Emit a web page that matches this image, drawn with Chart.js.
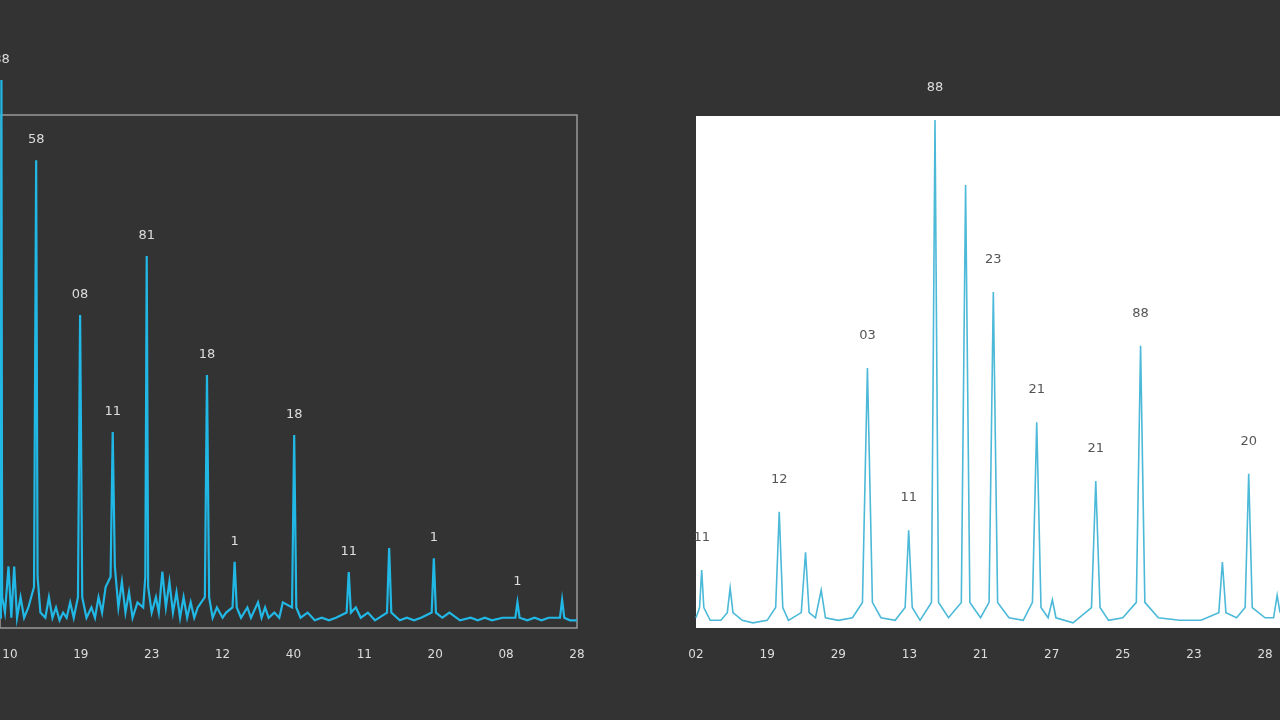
<!DOCTYPE html>
<html>
<head>
<meta charset="utf-8">
<script src="https://cdn.jsdelivr.net/npm/chart.js@4"></script>
<style>
  html, body { margin: 0; padding: 0; background: #333333; width: 1280px; height: 720px; overflow: hidden; }
  #leftWrap { position: absolute; left: 0; top: 0; width: 600px; height: 720px; }
  #rightWrap { position: absolute; left: 640px; top: 0; width: 640px; height: 720px; }
</style>
</head>
<body>
<div id="leftWrap"><canvas id="leftChart"></canvas></div>
<div id="rightWrap"><canvas id="rightChart"></canvas></div>
<script>
// tick labels along the bottom of each panel
const leftTickLabels = ['10', '19', '23', '12', '40', '11', '20', '08', '28'];
const rightTickLabels = ['02', '19', '29', '13', '21', '27', '25', '23', '28'];

// spectrum values [x, intensity]
const leftSpectrum = [[-1.35,2],[-1.28,5],[-1.2,106.8],[-1.1,6],[-0.7,3],[-0.2,12],[0.2,2],[0.6,12],[1.0,2],[1.5,6],[2.0,2],[2.6,4],[3.4,8],[3.7,91.2],[3.9,10],[4.3,3],[5,2],[5.5,6],[6,2],[6.5,4],[7,1.5],[7.5,3],[8,2],[8.5,5],[9,2],[9.6,6],[9.9,61],[10.2,6],[10.8,2],[11.5,4],[12,2],[12.5,6],[13,3],[13.5,8],[14.2,10],[14.5,38.2],[14.8,12],[15.3,4],[15.8,9],[16.3,3],[16.8,7],[17.3,2],[18,5],[18.8,4],[19.1,10],[19.3,72.5],[19.5,8],[20,3],[20.6,6],[21,3],[21.5,11],[22,4],[22.5,9],[23,3],[23.5,7],[24,2],[24.5,6],[25,2],[25.5,5],[26,2],[26.5,4],[27.5,6],[27.8,49.3],[28.1,6],[28.6,2],[29.2,4],[30,2],[30.5,3],[31.4,4],[31.7,12.9],[32,4],[32.6,2],[33.5,4],[34,2],[35,5],[35.5,2],[36,4],[36.5,2],[37.3,3],[38,2],[38.5,5],[39.8,4],[40.1,37.6],[40.4,4],[41,2],[42,3],[43,1.5],[44,2],[45,1.5],[46,2],[47.5,3],[47.8,10.9],[48.1,3],[48.8,4],[49.5,2],[50.5,3],[51.5,1.5],[53.2,3],[53.5,15.6],[53.8,3],[55,1.5],[56,2],[57,1.5],[58,2],[59.5,3],[59.8,13.6],[60.1,3],[61,2],[62,3],[63.5,1.5],[65,2],[66,1.5],[67,2],[68,1.5],[69.5,2],[71.3,2],[71.6,5],[71.9,2],[73,1.5],[74,2],[75,1.5],[76,2],[77.6,2],[77.9,5.5],[78.2,2],[79,1.5],[80,1.5]];

const rightSpectrum = [[0,2],[0.5,4],[0.8,11.3],[1.1,4],[2,1.5],[3.5,1.5],[4.4,3],[4.8,7.8],[5.2,3],[6.5,1.5],[8,1],[10,1.5],[11.2,4],[11.7,22.7],[12.2,4],[13,1.5],[14.8,3],[15.4,14.8],[15.9,3],[16.8,2],[17.6,7.4],[18.2,2],[20,1.5],[22,2],[23.4,5],[24.1,50.8],[24.8,5],[26,2],[28,1.5],[29.4,4],[29.9,19.1],[30.4,4],[31.5,1.5],[33.1,5],[33.6,99.2],[34.1,5],[35.5,2],[37.3,5],[37.9,86.5],[38.5,5],[40,2],[41.2,5],[41.8,65.6],[42.4,5],[44,2],[46,1.5],[47.3,5],[47.9,40.2],[48.5,4],[49.5,2],[50.1,5.5],[50.6,2],[53,1],[55.6,4],[56.2,28.7],[56.8,4],[58,1.5],[60,2],[61.9,5],[62.5,55.1],[63.1,5],[65,2],[68,1.5],[71,1.5],[73.5,3],[74,12.9],[74.5,3],[76,2],[77.2,4],[77.7,30.1],[78.2,4],[80,2],[81.2,2],[81.7,6.4],[82.1,3]];

// peak annotations [x, intensity, text]
const leftPeakLabels = [[-1.2,106.8,'88'],[3.7,91.2,'58'],[9.9,61,'08'],[14.5,38.2,'11'],[19.3,72.5,'81'],[27.8,49.3,'18'],[31.7,12.9,'1'],[40.1,37.6,'18'],[47.8,10.9,'11'],[59.8,13.6,'1'],[71.6,5,'1']];
const rightPeakLabels = [[33.6,99.2,'88'],[41.8,65.6,'23'],[24.1,50.8,'03'],[62.5,55.1,'88'],[47.9,40.2,'21'],[56.2,28.7,'21'],[77.7,30.1,'20'],[11.7,22.7,'12'],[29.9,19.1,'11'],[0.8,11.3,'11']];

const peakLabelPlugin = {
	id: 'peakLabels',
	afterDatasetsDraw(chart, args, opts) {
		const ctx = chart.ctx;
		const xs = chart.scales.x, ys = chart.scales.y;
		ctx.save();
		ctx.font = '13px "DejaVu Sans"';
		ctx.textAlign = 'center';
		ctx.textBaseline = 'bottom';
		opts.labels.forEach(([x, y, t]) => {
			const py = ys.getPixelForValue(y) - opts.offset;
			// labels sitting above the plot area are on the dark page
			ctx.fillStyle = py < chart.chartArea.top ? '#dddddd' : opts.color;
			ctx.fillText(t, xs.getPixelForValue(x), py);
		});
		ctx.restore();
	}
};

const areaPlugin = {
	id: 'areaBox',
	beforeDatasetsDraw(chart, args, opts) {
		const a = chart.chartArea, ctx = chart.ctx;
		ctx.save();
		if (opts.fill) {
			ctx.fillStyle = opts.fill;
			ctx.fillRect(a.left, a.top, a.right - a.left, a.bottom - a.top);
		}
		if (opts.stroke) {
			ctx.strokeStyle = opts.stroke;
			ctx.lineWidth = 1.5;
			ctx.strokeRect(a.left, a.top, a.right - a.left, a.bottom - a.top);
		}
		ctx.restore();
	}
};

const makeChart = (id, data, tickLabels, peakLabels, xMin, xMax, padding, lineColor, lineWidth, box, labelColor, labelOffset) => {
	return new Chart(document.getElementById(id), {
		type: 'line',
		data: {
			datasets: [{
				data: data.map(([x, y]) => ({ x, y })),
				borderColor: lineColor,
				borderWidth: lineWidth,
				pointRadius: 0,
				tension: 0,
				fill: false,
				clip: false,
			}]
		},
		options: {
			responsive: true,
			maintainAspectRatio: false,
			animation: false,
			layout: { padding },
			plugins: {
				legend: { display: false },
				tooltip: { enabled: false },
				peakLabels: { labels: peakLabels, color: labelColor, offset: labelOffset },
				areaBox: box,
			},
			scales: {
				x: {
					type: 'linear',
					min: xMin,
					max: xMax,
					grid: { display: false },
					border: { display: false },
					afterBuildTicks: (axis) => {
						axis.ticks = tickLabels.map((_, i) => ({ value: i * 10 }));
					},
					afterFit: (axis) => {
						axis.height = 92;
						axis.paddingLeft = 0;
						axis.paddingRight = 0;
					},
					ticks: {
						color: '#dddddd',
						font: { family: 'DejaVu Sans', size: 12 },
						padding: 12,
						maxRotation: 0,
						autoSkip: false,
						callback: (v) => tickLabels[Math.round(v / 10)],
					},
				},
				y: { display: false, min: 0, max: 100 },
			},
		},
		plugins: [areaPlugin, peakLabelPlugin],
	});
};

makeChart('leftChart', leftSpectrum, leftTickLabels, leftPeakLabels, -1.4, 80,
	{ left: 0, right: 23, top: 115, bottom: 0 }, '#22b8e6', 2.2, { stroke: '#9a9a9a' }, '#dddddd', 14);
makeChart('rightChart', rightSpectrum, rightTickLabels, rightPeakLabels, 0, 82.1,
	{ left: 56, right: 0, top: 116, bottom: 0 }, '#4cb9d8', 1.6, { fill: '#ffffff' }, '#555555', 26);
</script>
</body>
</html>
